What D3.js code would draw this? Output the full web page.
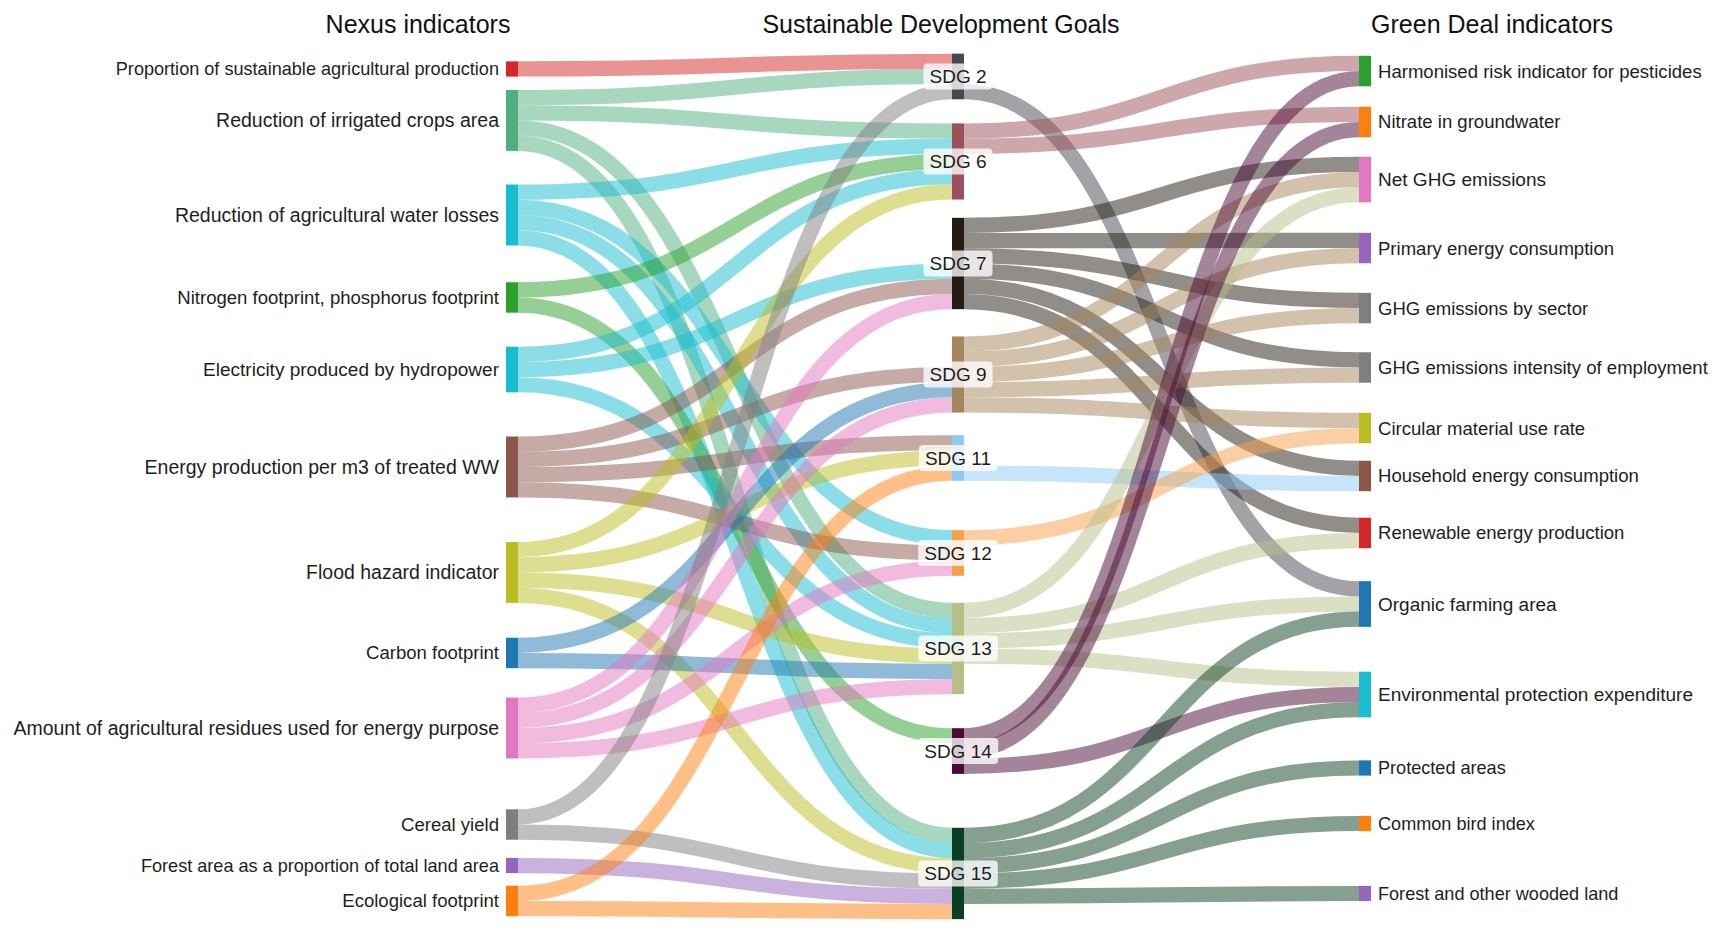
<!DOCTYPE html>
<html><head><meta charset="utf-8">
<script src="https://cdn.jsdelivr.net/npm/d3@7"></script>
<style>
html,body{margin:0;padding:0;background:#fff;}
svg{display:block;font-family:"Liberation Sans",Arial,Helvetica,sans-serif;}
</style></head><body>
<svg id="chart" width="1724" height="936"></svg>
<script>
// ================= DATA =================
const columnTitles = ["Nexus indicators", "Sustainable Development Goals", "Green Deal indicators"];

const nexusIndicators = [
  "Proportion of sustainable agricultural production",
  "Reduction of irrigated crops area",
  "Reduction of agricultural water losses",
  "Nitrogen footprint, phosphorus footprint",
  "Electricity produced by hydropower",
  "Energy production per m3 of treated WW",
  "Flood hazard indicator",
  "Carbon footprint",
  "Amount of agricultural residues used for energy purpose",
  "Cereal yield",
  "Forest area as a proportion of total land area",
  "Ecological footprint"
];

const sdgs = ["SDG 2", "SDG 6", "SDG 7", "SDG 9", "SDG 11", "SDG 12", "SDG 13", "SDG 14", "SDG 15"];

const greenDealIndicators = [
  "Harmonised risk indicator for pesticides",
  "Nitrate in groundwater",
  "Net GHG emissions",
  "Primary energy consumption",
  "GHG emissions by sector",
  "GHG emissions intensity of employment",
  "Circular material use rate",
  "Household energy consumption",
  "Renewable energy production",
  "Organic farming area",
  "Environmental protection expenditure",
  "Protected areas",
  "Common bird index",
  "Forest and other wooded land"
];

// [nexus indicator index, SDG, value]
const nexusToSdgLinks = [
  [0, "SDG 2", 1],
  [1, "SDG 2", 1], [1, "SDG 6", 1], [1, "SDG 13", 1], [1, "SDG 15", 1],
  [2, "SDG 6", 1], [2, "SDG 12", 1], [2, "SDG 13", 1], [2, "SDG 15", 1],
  [3, "SDG 6", 1], [3, "SDG 14", 1],
  [4, "SDG 6", 1], [4, "SDG 7", 1], [4, "SDG 13", 1],
  [5, "SDG 7", 1], [5, "SDG 9", 1], [5, "SDG 11", 1], [5, "SDG 12", 1],
  [6, "SDG 6", 1], [6, "SDG 11", 1], [6, "SDG 13", 1], [6, "SDG 15", 1],
  [7, "SDG 9", 1], [7, "SDG 13", 1],
  [8, "SDG 7", 1], [8, "SDG 9", 1], [8, "SDG 12", 1], [8, "SDG 13", 1],
  [9, "SDG 2", 1], [9, "SDG 15", 1],
  [10, "SDG 15", 1],
  [11, "SDG 11", 1], [11, "SDG 15", 1]
];

// [SDG, green deal indicator index, value]
const sdgToGreenDealLinks = [
  ["SDG 2", 9, 1],
  ["SDG 6", 0, 1], ["SDG 6", 1, 1],
  ["SDG 7", 2, 1], ["SDG 7", 3, 1], ["SDG 7", 4, 1], ["SDG 7", 5, 1], ["SDG 7", 7, 1], ["SDG 7", 8, 1],
  ["SDG 9", 2, 1], ["SDG 9", 3, 1], ["SDG 9", 4, 1], ["SDG 9", 5, 1], ["SDG 9", 6, 1],
  ["SDG 11", 7, 1],
  ["SDG 12", 6, 1],
  ["SDG 13", 2, 1], ["SDG 13", 8, 1], ["SDG 13", 9, 1], ["SDG 13", 10, 1],
  ["SDG 14", 0, 1], ["SDG 14", 1, 1], ["SDG 14", 10, 1],
  ["SDG 15", 9, 1], ["SDG 15", 10, 1], ["SDG 15", 11, 1], ["SDG 15", 12, 1], ["SDG 15", 13, 1]
];

// ================= STYLE / LAYOUT OPTIONS =================
const nexusColors = ["#d62728", "#4fb07e", "#17becf", "#2ca02c", "#17becf", "#8c564b",
                     "#bcbd22", "#1f77b4", "#e377c2", "#7f7f7f", "#9467bd", "#ff7f0e"];
const sdgColors = ["#48474f", "#9e4f5c", "#241c14", "#a5855a", "#8dcaf5", "#f7a048",
                   "#b7bf87", "#4a0a34", "#0b3f22"];
const greenDealColors = ["#2ca02c", "#ff7f0e", "#e377c2", "#9467bd", "#7f7f7f", "#7f7f7f",
                         "#bcbd22", "#8c564b", "#d62728", "#1f77b4", "#17becf", "#1f77b4",
                         "#ff7f0e", "#9467bd"];
// node vertical placement hints (like plotly node.y: centre, fraction of height)
const nexusYHint = [0.0737, 0.1287, 0.2297, 0.3178, 0.3948, 0.4989, 0.6116, 0.6976, 0.7778, 0.8809, 0.9247, 0.9626];
const sdgYHint = [0.0817, 0.1725, 0.2815, 0.4001, 0.4893, 0.5908, 0.6928, 0.8024, 0.9332];
const greenDealYHint = [0.0759, 0.1303, 0.1918, 0.2650, 0.3291, 0.3926, 0.4573, 0.5085, 0.5694, 0.6453, 0.7420, 0.8205, 0.8798, 0.9546];

const W = 1724, H = 936;
const layout = {
  extentTop: 54, extentBottom: 919, nodePadding: 32, nodeWidth: 12,
  columnX: [506, 952, 1359], titleX: [418, 941, 1492], titleY: 24,
  linkOpacity: 0.5
};

// ================= BUILD GRAPH =================
const nodes = [];
nexusIndicators.forEach((n, i) => nodes.push({id: n, col: 0, color: nexusColors[i], hint: nexusYHint[i]}));
sdgs.forEach((n, i) => nodes.push({id: n, col: 1, color: sdgColors[i], hint: sdgYHint[i]}));
greenDealIndicators.forEach((n, i) => nodes.push({id: n, col: 2, color: greenDealColors[i], hint: greenDealYHint[i]}));
const byId = new Map(nodes.map(n => [n.id, n]));
nodes.forEach(n => { n.inLinks = []; n.outLinks = []; });

const links = [];
nexusToSdgLinks.forEach(([s, t, v]) => links.push({source: byId.get(nexusIndicators[s]), target: byId.get(t), value: v}));
sdgToGreenDealLinks.forEach(([s, t, v]) => links.push({source: byId.get(s), target: byId.get(greenDealIndicators[t]), value: v}));
links.forEach(l => { l.source.outLinks.push(l); l.target.inLinks.push(l); });

nodes.forEach(n => {
  n.inSum = d3.sum(n.inLinks, l => l.value);
  n.outSum = d3.sum(n.outLinks, l => l.value);
  n.value = Math.max(n.inSum, n.outSum);
});

// scale factor: densest column decides (like d3-sankey)
const extent = layout.extentBottom - layout.extentTop;
const columns = d3.groups(nodes, n => n.col);
const ky = d3.min(columns, ([, ns]) => (extent - (ns.length - 1) * layout.nodePadding) / d3.sum(ns, n => n.value));

const xScale = d3.scaleLinear().domain([0, 1, 2]).range(layout.columnX);
const yScale = d3.scaleLinear().domain([0, 1]).range([0, H]);

nodes.forEach(n => {
  const c = yScale(n.hint);
  const h = n.value * ky;
  n.y0 = c - h / 2; n.y1 = c + h / 2; n.cy = c;
  n.x0 = xScale(n.col); n.x1 = n.x0 + layout.nodeWidth;
});

// link breadths
nodes.forEach(n => {
  n.outLinks.sort((a, b) => a.target.cy - b.target.cy);
  n.inLinks.sort((a, b) => a.source.cy - b.source.cy);
  // the shorter side leans towards the nodes it connects to
  let yo = n.y0;
  if (n.outSum < n.value && n.outLinks.length) {
    const m = d3.mean(n.outLinks, l => l.target.cy);
    if (m > n.cy) yo = n.y1 - n.outSum * ky;
  }
  n.outLinks.forEach(l => { l.width = l.value * ky; l.y0 = yo + l.width / 2; yo += l.width; });
  let yi = n.y0;
  if (n.inSum < n.value && n.inLinks.length) {
    const m = d3.mean(n.inLinks, l => l.source.cy);
    if (m > n.cy) yi = n.y1 - n.inSum * ky;
  }
  n.inLinks.forEach(l => { l.width = l.value * ky; l.y1 = yi + l.width / 2; yi += l.width; });
});

// ================= DRAW =================
const svg = d3.select("#chart");
svg.append("rect").attr("width", W).attr("height", H).attr("fill", "#fff");

const linkGen = d3.linkHorizontal()
  .source(d => [d.source.x1, d.y0])
  .target(d => [d.target.x0, d.y1]);

svg.append("g").attr("fill", "none")
  .selectAll("path").data(links).join("path")
  .attr("d", linkGen)
  .attr("stroke", d => d.source.color)
  .attr("stroke-opacity", layout.linkOpacity)
  .attr("stroke-width", d => d.width);

svg.append("g").selectAll("rect").data(nodes).join("rect")
  .attr("x", d => d.x0).attr("y", d => d.y0)
  .attr("width", d => d.x1 - d.x0).attr("height", d => d.y1 - d.y0)
  .attr("fill", d => d.color);

const fontScale = d3.scaleLinear().domain([1, 4]).range([18.1, 19.5]);

// side labels
svg.append("g").selectAll("text").data(nodes.filter(n => n.col !== 1)).join("text")
  .attr("x", d => d.col === 0 ? d.x0 - 7 : d.x1 + 7)
  .attr("y", d => d.cy)
  .attr("dy", "0.35em")
  .attr("text-anchor", d => d.col === 0 ? "end" : "start")
  .attr("font-size", d => fontScale(d.value))
  .attr("fill", "#1e1e1e")
  .text(d => d.id);

// SDG labels with translucent box
const sdgLab = svg.append("g").selectAll("g").data(nodes.filter(n => n.col === 1)).join("g")
  .attr("transform", d => `translate(${(d.x0 + d.x1) / 2},${d.cy})`);
sdgLab.append("text")
  .attr("text-anchor", "middle").attr("dy", "0.35em")
  .attr("font-size", 19).attr("fill", "#1e1e1e")
  .text(d => d.id);
sdgLab.each(function() {
  const g = d3.select(this);
  const bb = g.select("text").node().getBBox();
  g.insert("rect", "text")
    .attr("x", bb.x - 6).attr("y", -13)
    .attr("width", bb.width + 12).attr("height", 26)
    .attr("rx", 4)
    .attr("fill", "#fff").attr("fill-opacity", 0.78);
});

// column titles
svg.append("g").selectAll("text").data(columnTitles).join("text")
  .attr("x", (d, i) => layout.titleX[i])
  .attr("y", layout.titleY)
  .attr("dy", "0.35em")
  .attr("text-anchor", "middle")
  .attr("font-size", 25)
  .attr("fill", "#111")
  .text(d => d);
</script>
</body></html>
